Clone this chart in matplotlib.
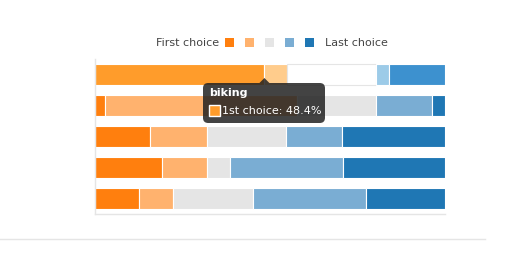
import matplotlib
matplotlib.use("Agg")
import matplotlib.pyplot as plt
from matplotlib.patches import FancyBboxPatch, Rectangle, Polygon
from matplotlib.lines import Line2D
import numpy as np

# share of answers per rank (%), 1st choice -> last choice
categories = ["biking", "option 2", "option 3", "option 4", "option 5"]
first = [48.4, 2.8, 15.7, 19.1, 12.7]
second = [6.4, 54.9, 16.4, 12.9, 9.7]
third = [25.6, 22.7, 22.6, 6.6, 22.6]
fourth = [3.5, 16.0, 16.0, 32.3, 32.3]
last = [16.1, 3.6, 29.3, 29.1, 22.7]

colors = ["#ff7f0e", "#ffb26e", "#e5e5e5", "#7aadd3", "#1f77b4"]
hover_colors = ["#ff9c2b", "#ffcc8c", "#ffffff", "#9ccbe8", "#3d91cf"]
hovered = 0

plt.rcParams['font.family'] = ['DejaVu Sans']
fig = plt.figure(figsize=(5.2, 2.6), dpi=100)
ax = fig.add_axes([95 / 520, 1 - 214 / 260, 350 / 520, 155 / 260])

series = [first, second, third, fourth, last]
y = np.arange(len(categories))
left = np.zeros(len(categories))
for k, vals in enumerate(series):
    vals = np.asarray(vals)
    cols = [hover_colors[k] if i == hovered else colors[k] for i in range(len(categories))]
    edges = ["#e5e5e5" if c == "#ffffff" else "white" for c in cols]
    ax.barh(y, vals, left=left, height=0.68, color=cols, edgecolor=edges, linewidth=0.8)
    left += vals

ax.set_xlim(0, 100)
ax.set_ylim(len(categories) - 0.5, -0.5)
ax.set_xticks([])
ax.set_yticks([])
for s in ["top", "right"]:
    ax.spines[s].set_visible(False)
for s in ["left", "bottom"]:
    ax.spines[s].set_color("#e5e5e5")
    ax.spines[s].set_linewidth(1)

# legend
fig.text(219 / 520, 1 - 43 / 260, "First choice", ha="right", va="center", fontsize=8, color="#444444")
for k, c in enumerate(colors):
    x0 = (225 + 20 * k) / 520
    fig.patches.append(Rectangle((x0, 1 - 47 / 260), 9 / 520, 9 / 260, transform=fig.transFigure,
                                 facecolor=c, edgecolor="none"))
fig.text(325 / 520, 1 - 43 / 260, "Last choice", ha="left", va="center", fontsize=8, color="#444444")

# bottom separator line
fig.add_artist(Line2D([0, 485 / 520], [1 - 239 / 260, 1 - 239 / 260], color="#e5e5e5", linewidth=1))

# tooltip for hovered bar
tx0, ty0, tw, th = 203 / 520, 1 - 123 / 260, 122 / 520, 40 / 260
fig.patches.append(FancyBboxPatch((tx0, ty0), tw, th, boxstyle="round,pad=0,rounding_size=0.01",
                                  transform=fig.transFigure, facecolor="#222222", alpha=0.85,
                                  edgecolor="none", mutation_aspect=2))
ax_x = 95 + 350 * first[hovered] / 100
fig.patches.append(Polygon([((ax_x - 5) / 520, 1 - 83 / 260), ((ax_x + 5) / 520, 1 - 83 / 260),
                            (ax_x / 520, 1 - 78 / 260)], closed=True, transform=fig.transFigure,
                           facecolor="#222222", alpha=0.85, edgecolor="none"))
fig.text(209 / 520, 1 - 93 / 260, categories[hovered], ha="left", va="center", fontsize=8,
         fontweight="bold", color="white")
fig.patches.append(Rectangle((209 / 520, 1 - 116 / 260), 11 / 520, 11 / 260, transform=fig.transFigure,
                             facecolor=hover_colors[0], edgecolor="white", linewidth=1))
fig.text(222 / 520, 1 - 111 / 260, f"1st choice: {first[hovered]}%", ha="left", va="center",
         fontsize=8, color="white")

fig.savefig("out.png", dpi=100)
